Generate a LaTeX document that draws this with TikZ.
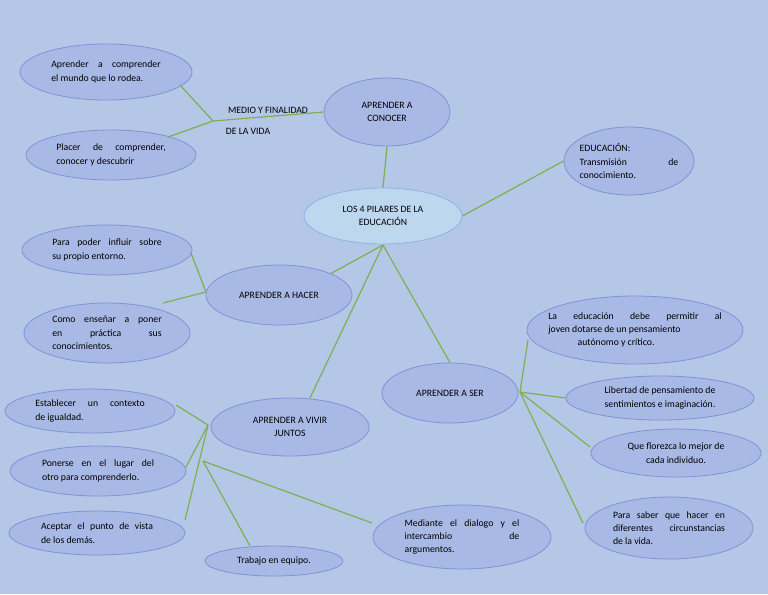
\documentclass[tikz,border=0pt]{standalone}
\usepackage{fontspec}
\setmainfont{Carlito}
\usetikzlibrary{shapes.geometric}
\definecolor{bg}{HTML}{B4C7E7}
\definecolor{ef}{HTML}{A8B9E6}
\definecolor{ed}{HTML}{7F93D6}
\definecolor{cf}{HTML}{BDD7EE}
\definecolor{cd}{HTML}{8DB4E2}
\definecolor{ln}{HTML}{7DB053}
\newcommand\mynohy{\hyphenpenalty=10000\relax}
\begin{document}
\begin{tikzpicture}[x=0.75pt,y=-0.75pt,
 el/.style={ellipse,draw=ed,fill=ef,line width=0.6pt,inner sep=0pt},
 t/.style={font=\fontsize{7.3}{10}\selectfont\mynohy,align=justify},
 tc/.style={font=\fontsize{7.3}{10}\selectfont,align=center},
 c/.style={draw=ln,line width=0.9pt}]
\fill[bg] (0,0) rectangle (768,594);
\useasboundingbox (0,0) rectangle (768,594);
\node[el,minimum width=172*0.75pt,minimum height=56*0.75pt] (a1) at (106,72) {};
\node[t,text width=82] at (a1) {Aprender a comprender\linebreak el mundo que lo rodea.};
\node[el,minimum width=170*0.75pt,minimum height=50*0.75pt] (a2) at (111,155) {};
\node[t,text width=82] at (a2) {Placer de comprender,\linebreak conocer y descubrir};
\node[el,minimum width=126*0.75pt,minimum height=68*0.75pt] (con) at (387,112) {};
\node[tc] at (con) {APRENDER A\\CONOCER};
\node[tc] (l1) at (268,110) {MEDIO Y FINALIDAD};
\node[tc] (l2) at (248,131) {DE LA VIDA};
\node[el,minimum width=130*0.75pt,minimum height=68*0.75pt] (edu) at (629,161) {};
\node[t,text width=74] at (edu) {EDUCACIÓN:\\Transmisión\hfill de\\conocimiento.};
\node[ellipse,draw=cd,fill=cf,line width=0.6pt,minimum width=158*0.75pt,minimum height=56*0.75pt] (cen) at (383,216) {};
\node[tc] at (cen) {LOS 4 PILARES DE LA\\EDUCACIÓN};
\node[el,minimum width=170*0.75pt,minimum height=50*0.75pt] (h1) at (107,250) {};
\node[t,text width=82] at (h1) {Para poder influir sobre\linebreak su propio entorno.};
\node[el,minimum width=146*0.75pt,minimum height=60*0.75pt] (hac) at (279,295) {};
\node[tc] at (hac) {APRENDER A HACER};
\node[el,minimum width=166*0.75pt,minimum height=60*0.75pt] (h2) at (107,333) {};
\node[t,text width=82] at (h2) {Como enseñar a poner\linebreak en práctica sus\linebreak conocimientos.};
\node[el,minimum width=136*0.75pt,minimum height=60*0.75pt] (ser) at (450,393) {};
\node[tc] at (ser) {APRENDER A SER};
\node[el,minimum width=216*0.75pt,minimum height=68*0.75pt] (s1) at (635,330) {};
\node[t,text width=130] at (s1) {La educación debe permitir al\linebreak joven dotarse de un pensamiento\\\hspace*{22pt}autónomo y crítico.};
\node[el,minimum width=188*0.75pt,minimum height=44*0.75pt] (s2) at (660,398) {};
\node[tc] at (s2) {Libertad de pensamiento de\\sentimientos e imaginación.};
\node[el,minimum width=170*0.75pt,minimum height=48*0.75pt] (s3) at (676,453) {};
\node[tc] at (s3) {Que florezca lo mejor de\\cada individuo.};
\node[el,minimum width=168*0.75pt,minimum height=62*0.75pt] (s4) at (669,528) {};
\node[t,text width=84] at (s4) {Para saber que hacer en\linebreak diferentes circunstancias\linebreak de la vida.};
\node[el,minimum width=158*0.75pt,minimum height=58*0.75pt] (viv) at (290,427) {};
\node[tc] at (viv) {APRENDER A VIVIR\\JUNTOS};
\node[el,minimum width=170*0.75pt,minimum height=44*0.75pt] (v1) at (90,411) {};
\node[t,text width=82] at (v1) {Establecer un contexto\linebreak de igualdad.};
\node[el,minimum width=176*0.75pt,minimum height=50*0.75pt] (v2) at (98,471) {};
\node[t,text width=84] at (v2) {Ponerse en el lugar del\linebreak otro para comprenderlo.};
\node[el,minimum width=176*0.75pt,minimum height=44*0.75pt] (v3) at (97,533) {};
\node[t,text width=84] at (v3) {Aceptar el punto de vista\linebreak de los demás.};
\node[el,minimum width=138*0.75pt,minimum height=30*0.75pt] (v4) at (274,561) {};
\node[tc] at (v4) {Trabajo en equipo.};
\node[el,minimum width=178*0.75pt,minimum height=64*0.75pt] (v5) at (462,537) {};
\node[t,text width=86] at (v5) {Mediante el dialogo y el\linebreak intercambio de\linebreak argumentos.};
% connectors
\coordinate (ja) at (213,121);
\coordinate (jc) at (383,245);
\coordinate (jh) at (206,292);
\coordinate (js) at (520,392);
\coordinate (jv) at (208,425);
\coordinate (jw) at (203,461);
\coordinate (a1e) at (180,85);
\coordinate (a2e) at (168,137);
\draw[c] (a1e) -- (ja) -- (a2e) (ja) -- (con.west);
\draw[c] (con.south) -- (cen.north);
\draw[c] (cen.east) -- (edu.west);
\draw[c] (jc) -- (hac.north east);
\draw[c] (jc) -- (ser.north);
\draw[c] (jc) -- (310,398) coordinate (vtop);
\draw[c] (jh) -- (191,253) coordinate (h1e);
\draw[c] (jh) -- (163,303) coordinate (h2e);
\draw[c] (js) -- (528,340) coordinate (s1e);
\draw[c] (js) -- (s2.west);
\draw[c] (js) -- (590,447) coordinate (s3e);
\draw[c] (js) -- (583,523) coordinate (s4e);
\draw[c] (jv) -- (176,405) coordinate (v1e);
\draw[c] (jv) -- (186,467) coordinate (v2e);
\draw[c] (jv) -- (185,520) coordinate (v3e);
\draw[c] (jw) -- (250,546) coordinate (v4e);
\draw[c] (jw) -- (372,523) coordinate (v5e);
\end{tikzpicture}
\end{document}
